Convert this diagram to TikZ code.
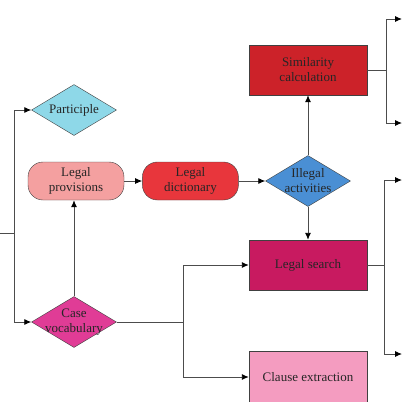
\documentclass[tikz,border=0pt]{standalone}
\usepackage{fontspec}
\setmainfont{Liberation Serif}
\usetikzlibrary{arrows.meta,positioning,shapes.geometric}

\definecolor{partcyan}{RGB}{142,216,232}
\definecolor{provpink}{RGB}{244,160,160}
\definecolor{dictred}{RGB}{232,54,60}
\definecolor{illblue}{RGB}{74,143,212}
\definecolor{simred}{RGB}{204,34,41}
\definecolor{searchmag}{RGB}{200,26,96}
\definecolor{casepink}{RGB}{224,60,150}
\definecolor{clausepink}{RGB}{244,156,192}

\begin{document}
\begin{tikzpicture}[x=1pt,y=-1pt,>={Latex[length=7pt,width=6pt,color=black]},
                    font=\fontsize{13}{15}\selectfont]
  \tikzstyle{line}=[draw=black!70,line width=0.9pt]
  \tikzstyle{decision}=[diamond,draw=black!75,thin,aspect=1.7,inner xsep=-8pt,inner ysep=-5pt,
                        minimum width=85pt,minimum height=51pt,align=center,text=black!85]
  \tikzstyle{soft}=[rectangle,rounded corners=15pt,draw=black!75,thin,minimum width=96pt,
                    minimum height=38pt,align=center,text=black!85]
  \tikzstyle{block}=[rectangle,draw=black!75,thin,minimum width=118pt,minimum height=50pt,
                     align=center,text=black!85]

  \useasboundingbox (0,0) rectangle (402,402);
  \clip (0,0) rectangle (402,402);

  \node[decision,fill=partcyan]   (part)   at (74,110)  {Participle};
  \node[soft,fill=provpink]       (prov)   at (76,181)  {Legal\\provisions};
  \node[soft,fill=dictred]        (dict)   [right=18pt of prov] {Legal\\dictionary};
  \node[decision,fill=illblue]    (ill)    at (308,181) {Illegal\\activities};
  \node[block,fill=simred]        (sim)    at (308,70)  {Similarity\\calculation};
  \node[block,fill=searchmag]     (search) at (308,265) {Legal search};
  \node[decision,fill=casepink]   (case)   at (74,322)  {Case\\vocabulary};
  \node[block,fill=clausepink,minimum height=52pt] (clause) at (308,377) {Clause extraction};

  \coordinate (in)       at (0,233);
  \coordinate (trunk)    at (14,233);
  \coordinate (casefork) at (183,322);
  \coordinate (simfork)  at (386,70);
  \coordinate (srchfork) at (384,265);
  \coordinate (out1)     at (402,19);
  \coordinate (out2)     at (402,123);
  \coordinate (out3)     at (402,180);
  \coordinate (out4)     at (402,354);

  \draw[line] (in) -- (trunk);
  \draw[line,->] (trunk) |- (part);
  \draw[line,->] (trunk) |- (case);
  \draw[line,->] (case) -- (case |- prov.south);
  \draw[line,->] (prov) -- (dict);
  \draw[line,->] (dict) -- (ill);
  \draw[line,->] (ill) -- (sim);
  \draw[line,->] (ill) -- (search);
  \draw[line] (case) -- (casefork);
  \draw[line,->] (casefork) |- (search);
  \draw[line,->] (casefork) |- (clause);
  \draw[line] (sim) -- (simfork);
  \draw[line,->] (simfork) |- (out1);
  \draw[line,->] (simfork) |- (out2);
  \draw[line] (search) -- (srchfork);
  \draw[line,->] (srchfork) |- (out3);
  \draw[line,->] (srchfork) |- (out4);
\end{tikzpicture}
\end{document}
